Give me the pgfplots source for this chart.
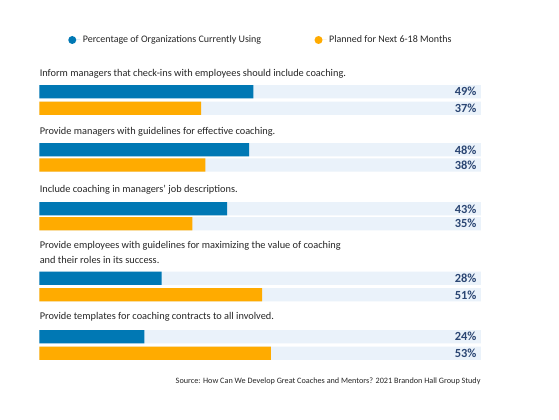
\documentclass[border=0pt]{standalone}
\usepackage{pgfplots}
\pgfplotsset{compat=1.18}
\usepackage{fontspec}
\setmainfont{Carlito}
\definecolor{cblue}{HTML}{0078B4}
\definecolor{corange}{HTML}{FFAB00}
\definecolor{ctrack}{HTML}{EAF2FA}
\definecolor{cnum}{HTML}{2B4673}
\definecolor{ctext}{HTML}{262626}
\begin{document}
\begin{tikzpicture}
\begin{axis}[
  scale only axis, width=419.25pt, height=315pt,
  xmin=-9.049, xmax=119.02, ymin=0, ymax=420, y dir=reverse,
  hide axis, clip=false,
  xbar, bar shift=0pt, bar width=13.3,
  legend style={at={(axis cs:6.53,40)}, anchor=west, draw=none, fill=none,
    inner sep=0pt, font=\fontsize{7.5}{8.5}\selectfont\color{ctext},
    /tikz/every even column/.append style={column sep=38pt}},
  legend columns=2,
  legend image code/.code={\fill[#1] (0pt,0pt) circle (3pt); \path (0pt,0pt) -- (6pt,0pt);},
]
\path[fill=white] (rel axis cs:0,0) rectangle (rel axis cs:1,1);
\addplot[forget plot, fill=ctrack, draw=none] coordinates {
 (101.1,91.7) (101.1,108.3) (101.1,149.8) (101.1,165) (101.1,208.8) (101.1,223.7)
 (101.1,278.3) (101.1,294.8) (101.1,336.7) (101.1,353.3)};
\addplot[fill=cblue, draw=none] coordinates {
 (49,91.7) (48,149.8) (43,208.8) (28,278.3) (24,336.7)};
\addplot[fill=corange, draw=none] coordinates {
 (37,108.3) (38,165) (35,223.7) (51,294.8) (53,353.3)};
\legend{Percentage of Organizations Currently Using, Planned for Next 6-18 Months}
\begin{scope}[every node/.style={font=\fontsize{7.75}{11.25}\selectfont\color{ctext}, inner sep=0pt, anchor=west, align=left}]
\node at (axis cs:0,73.5) {Inform managers that check-ins with employees should include coaching.};
\node at (axis cs:0,131.5) {Provide managers with guidelines for effective coaching.};
\node at (axis cs:0,190) {Include coaching in managers’ job descriptions.};
\node at (axis cs:0,252.5) {Provide employees with guidelines for maximizing the value of coaching\\and their roles in its success.};
\node at (axis cs:0,317) {Provide templates for coaching contracts to all involved.};
\end{scope}
\begin{scope}[every node/.style={font=\fontsize{9.3}{11}\selectfont\bfseries\color{cnum}, inner sep=0pt, anchor=east}]
\node at (axis cs:100.16,91.7) {49\%};
\node at (axis cs:100.16,108.3) {37\%};
\node at (axis cs:100.16,149.8) {48\%};
\node at (axis cs:100.16,165) {38\%};
\node at (axis cs:100.16,208.8) {43\%};
\node at (axis cs:100.16,223.7) {35\%};
\node at (axis cs:100.16,278.3) {28\%};
\node at (axis cs:100.16,294.8) {51\%};
\node at (axis cs:100.16,336.7) {24\%};
\node at (axis cs:100.16,353.3) {53\%};
\end{scope}
\node[font=\fontsize{6.15}{7}\selectfont\color{ctext}, inner sep=0pt, anchor=east] at (axis cs:101.1,381) {Source: How Can We Develop Great Coaches and Mentors? 2021 Brandon Hall Group Study};
\end{axis}
\end{tikzpicture}
\end{document}
